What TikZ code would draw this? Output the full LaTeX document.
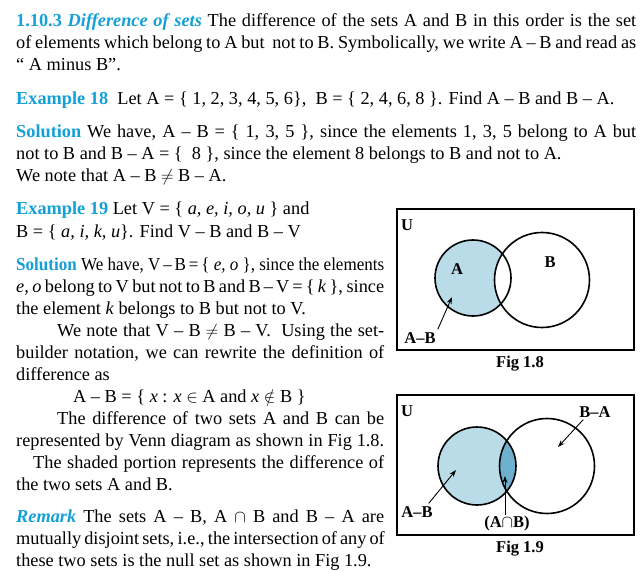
\documentclass[tikz,border=0pt]{standalone}
\usepackage{fontspec}
\setmainfont{Liberation Serif}
\usepackage{amssymb}
\usetikzlibrary{arrows.meta}
\definecolor{hb}{RGB}{20,160,215}
\definecolor{fa}{RGB}{185,220,232}
\definecolor{fi}{RGB}{110,175,205}
\newcommand{\hd}[1]{\textcolor{hb}{\bfseries #1}}
\newcommand{\Ln}[2]{\makebox[#1pt][s]{#2}}
\begin{document}
\begin{tikzpicture}[x=1pt,y=-1pt,
  tl/.style={anchor=base west,inner sep=0pt,font=\fontsize{18.3}{22}\selectfont},
  fl/.style={font=\fontsize{16.5}{18}\selectfont\bfseries,inner sep=0pt},
  ln/.style={line width=1.6pt},
  ar/.style={line width=0.9pt,-{Stealth[length=7pt,width=5pt]}}]
\useasboundingbox (0,0) rectangle (640,572);
\fill[white] (0,0) rectangle (640,572);
% text
\node[tl] (t1) at (16,27) {\Ln{620}{\hd{1.10.3} \hd{\itshape Difference of sets} The difference of the sets A and B in this order is the set}};
\node[tl] (t2) at (16,49) {\Ln{620}{of elements which belong to A but \ not to B. Symbolically, we write A -- B and read as}};
\node[tl] (t3) at (16,71) {`` A minus B''.};
\node[tl] (t4) at (16,105) {\hd{Example 18} \ Let A = \{ 1, 2, 3, 4, 5, 6\}, \ B = \{ 2, 4, 6, 8 \}. Find A -- B and B -- A.};
\node[tl] (t5) at (16,138) {\Ln{620}{\hd{Solution} We have, A -- B = \{ 1, 3, 5 \}, since the elements 1, 3, 5 belong to A but}};
\node[tl] (t6) at (16,160) {not to B and B -- A = \{ \ 8 \}, since the element 8 belongs to B and not to A.};
\node[tl] (t7) at (16,182) {We note that A -- B $\neq$ B -- A.};
\node[tl] (t8) at (16,215) {\hd{Example 19} Let V = \{ \textit{a, e, i, o, u} \} and};
\node[tl] (t9) at (16,237) {B = \{ \textit{a, i, k, u}\}. Find V -- B and B -- V};
\node[tl] (t10) at (16,270) {\resizebox{368pt}{\height}{\hd{Solution} We have, V\,--\,B\,=\,\{ \textit{e, o} \}, since the elements}};
\node[tl] (t11) at (16,292) {\Ln{368}{\textit{e, o} belong to V but not to B and B\,--\,V\,=\,\{ \textit{k} \}, since}};
\node[tl] (t12) at (16,314) {the element \textit{k} belongs to B but not to V.};
\node[tl] (t13) at (57,336) {\Ln{327}{We note that V -- B $\neq$ B -- V. \ Using the set-}};
\node[tl] (t14) at (16,358) {\Ln{368}{builder notation, we can rewrite the definition of}};
\node[tl] (t15) at (16,380) {difference as};
\node[tl] (t16) at (73,402) {A -- B = \{ \textit{x} : \textit{x} $\in$ A and \textit{x} $\notin$ B \}};
\node[tl] (t17) at (57,424) {\Ln{327}{The difference of two sets A and B can be}};
\node[tl] (t18) at (16,446) {\Ln{368}{represented by Venn diagram as shown in Fig 1.8.}};
\node[tl] (t19) at (33,468) {\Ln{351}{The shaded portion represents the difference of}};
\node[tl] (t20) at (16,490) {the two sets A and B.};
\node[tl] (t21) at (16,522) {\Ln{368}{\hd{\itshape Remark} The sets A -- B, A $\cap$ B and B -- A are}};
\node[tl] (t22) at (16,544) {\Ln{368}{mutually disjoint sets, i.e., the intersection of any of}};
\node[tl] (t23) at (16,566) {these two sets is the null set as shown in Fig 1.9.};
% Fig 1.8
\draw[ln] (397,209) rectangle (634,350);
\fill[fa] (473,278) circle (38);
\begin{scope}\clip (473,278) circle (38); \fill[white] (542,280) circle (47.5);\end{scope}
\draw[ln] (473,278) circle (38);
\draw[ln] (542,280) circle (47.5);
\node[fl] (u1) at (407,225) {U};
\node[fl] (a1) at (457,269) {A};
\node[fl] (b1) at (550,262) {B};
\node[fl] (d1) at (420,338) {A--B};
\coordinate (p1) at (452,297);
\draw[ar] (d1.north east) ++(2,-3) -- (p1);
\node[fl] (c1) at (520,364) {Fig 1.8};
% Fig 1.9
\draw[ln] (397,395) rectangle (634,535);
\fill[fa] (477,466) circle (39);
\begin{scope}\clip (477,466) circle (39); \fill[fi] (547,466) circle (47.5);\end{scope}
\draw[ln] (477,466) circle (39);
\draw[ln] (547,466) circle (47.5);
\node[fl] (u2) at (407,411) {U};
\node[fl] (ba) at (595,412) {B--A};
\coordinate (p2) at (558,447);
\draw[ar] (ba.south west) ++(4,2) -- (p2);
\node[fl] (d2) at (417,512) {A--B};
\coordinate (p3) at (456,470);
\draw[ar] (d2.north east) ++(-4,-3) -- (p3);
\node[fl] (ab) at (507,524) {(A$\cap$B)};
\coordinate (p4) at (505,476);
\draw[ar] (505,515) -- (p4);
\node[fl] (c2) at (520,549) {Fig 1.9};
\end{tikzpicture}
\end{document}
